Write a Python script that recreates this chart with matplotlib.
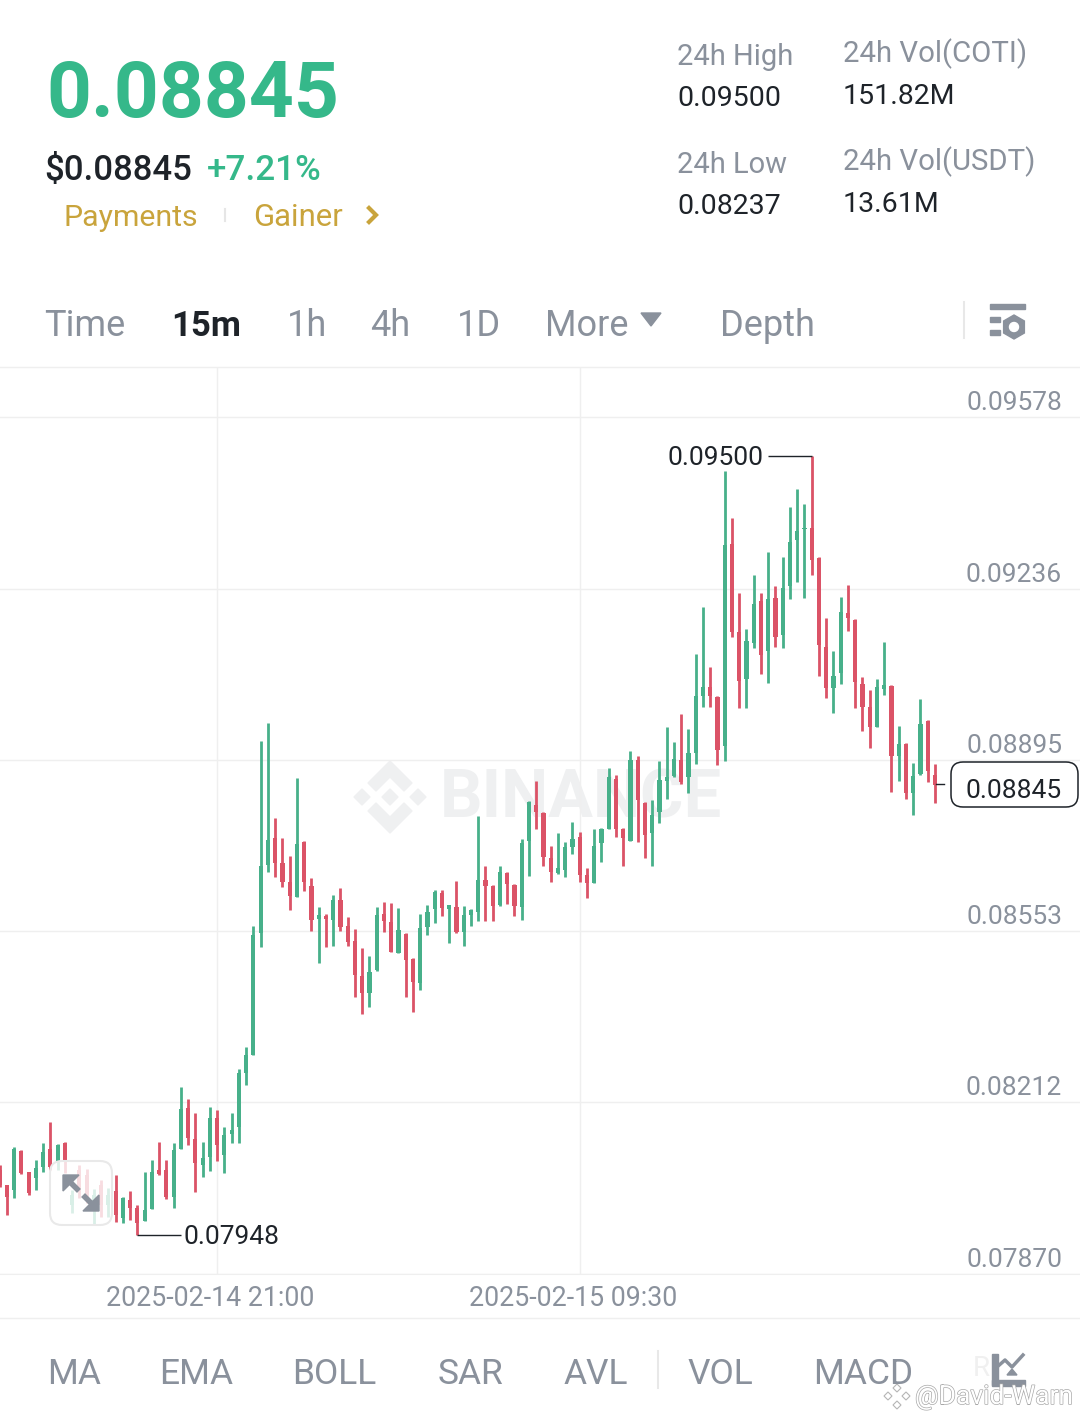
import numpy as np
import matplotlib
matplotlib.use("Agg")
import matplotlib.pyplot as plt
import matplotlib.patheffects as pe
from matplotlib.patches import FancyBboxPatch, Polygon, Rectangle, RegularPolygon, Circle

plt.rcParams['font.family'] = ['Roboto', 'DejaVu Sans']

# 15m candles, prices in ticks of 0.00001 USDT
highs = [8087,8047,8123,8117,8073,8097,8131,8173,8129,8133,
         8037,8087,8079,8039,8057,8041,8067,8023,8035,8007,
         8073,8097,8133,8097,8131,8243,8219,8191,8133,8203,
         8197,8163,8191,8278,8322,8563,8932,8968,8779,8739,
         8703,8858,8733,8659,8601,8587,8625,8639,8581,8557,
         8520,8504,8601,8611,8609,8599,8550,8500,8587,8605,
         8635,8635,8605,8653,8603,8597,8783,8683,8645,8683,
         8671,8647,8737,8813,8852,8791,8723,8749,8731,8771,
         8751,8679,8757,8759,8878,8864,8759,8912,8902,8811,
         8815,8892,8960,8930,8986,8956,9106,9199,9080,9022,
         9470,9377,9227,9155,9263,9227,9309,9241,9299,9399,
         9434,9405,9500,9299,9177,9111,9219,9243,9175,9060,
         9034,9056,9129,9044,8962,8928,8888,9016,8974,8886]
lows = [8043,7987,8021,8069,8027,8037,8073,8077,8077,8071,
        7991,8021,8011,7969,7983,7983,7973,7971,7977,7948,
        7975,7999,8067,8019,8001,8119,8127,8033,8063,8075,
        8095,8071,8131,8131,8247,8306,8522,8671,8661,8641,
        8595,8621,8633,8554,8490,8522,8524,8554,8524,8422,
        8388,8402,8474,8552,8512,8510,8422,8392,8436,8546,
        8569,8583,8530,8550,8524,8563,8573,8573,8573,8603,
        8607,8583,8575,8663,8757,8683,8651,8667,8661,8707,
        8651,8619,8649,8691,8757,8741,8683,8733,8731,8699,
        8683,8769,8817,8860,8846,8829,8886,9000,9000,8884,
        8892,9139,8998,8998,9117,9066,9048,9119,9117,9215,
        9249,9217,9263,9062,9018,8988,9046,9151,8998,8952,
        8918,8960,9024,8831,8852,8817,8785,8864,8850,8809]
opens = [8077,8047,8037,8115,8073,8061,8083,8119,8093,8131,
         8007,8077,8067,7997,8047,8007,8035,7981,8017,8001,
         7975,7999,8077,8077,8023,8119,8201,8139,8087,8103,
         8181,8107,8149,8163,8271,8306,8550,8685,8739,8689,
         8651,8621,8731,8643,8577,8583,8575,8615,8563,8534,
         8464,8430,8476,8587,8571,8510,8548,8498,8450,8561,
         8597,8629,8597,8601,8552,8585,8591,8655,8643,8605,
         8669,8645,8601,8733,8805,8789,8699,8669,8675,8721,
         8741,8665,8649,8729,8757,8856,8757,8733,8894,8809,
         8749,8791,8852,8862,8894,8860,8908,9022,9040,9020,
         8922,9325,9149,9056,9127,9211,9111,9217,9143,9241,
         9333,9355,9357,9297,9119,9038,9068,9187,9173,9046,
         9000,8960,9036,9042,8902,8926,8829,8866,8972,8864]
closes = [8047,8023,8119,8071,8031,8081,8113,8083,8127,8097,
          8027,8037,8027,8027,8007,8027,7987,8021,8001,7971,
          7997,8073,8069,8023,8117,8199,8141,8091,8101,8181,
          8127,8147,8157,8271,8306,8546,8683,8735,8689,8651,
          8623,8727,8651,8575,8585,8577,8615,8561,8532,8466,
          8430,8472,8585,8573,8512,8556,8496,8452,8559,8591,
          8631,8599,8605,8552,8585,8595,8655,8643,8603,8671,
          8647,8603,8729,8811,8791,8701,8671,8679,8721,8737,
          8665,8649,8723,8757,8860,8757,8739,8894,8815,8745,
          8785,8854,8860,8896,8850,8908,9022,9040,9022,8914,
          9323,9149,9052,9131,9205,9104,9215,9139,9237,9329,
          9351,9357,9293,9123,9038,9062,9189,9177,9050,9000,
          8960,9040,9044,8902,8926,8829,8862,8966,8872,8845]

y_ticks = [0.09578, 0.09236, 0.08895, 0.08553, 0.08212, 0.07870]
x_tick_index = [30, 80]
x_tick_labels = ["2025-02-14 21:00", "2025-02-15 09:30"]
last_price = 0.08845
high_label = 0.09500
low_label = 0.07948

tabs = ["Time", "15m", "1h", "4h", "1D", "More", "Depth"]
tabs_x = [44, 171, 287, 370, 457, 545, 720]
indicators = ["MA", "EMA", "BOLL", "SAR", "AVL", "VOL", "MACD"]
indicators_x = [47, 159, 292, 438, 564, 688, 813]

GREEN = "#47B08A"
RED = "#DB5367"
PRICE_GREEN = "#35B88A"
GREY = "#8A919C"
DARK = "#1E2329"
GOLD = "#C9A43C"
LINE = "#EFEFEF"

fig = plt.figure(figsize=(10.8, 14.18), dpi=100)
W, H = 1080, 1418


def ui_axes(z):
    a = fig.add_axes([0, 0, 1, 1], zorder=z)
    a.set_xlim(0, W)
    a.set_ylim(H, 0)
    a.axis("off")
    return a


bg = ui_axes(0)
fg = ui_axes(2)

# --- watermark under the candles
wm = "#EFF0F1"
bg.text(440, 799, "BINANCE", fontsize=48, fontweight="bold", color=wm, va="center", ha="left")
for cx in (362, 390, 418):
    bg.add_patch(Polygon([(cx, 789), (cx + 8, 797), (cx, 805), (cx - 8, 797)], color=wm))
bg.add_patch(Polygon([(390, 761), (412, 783), (404, 791), (390, 777), (376, 791), (368, 783)], color=wm))
bg.add_patch(Polygon([(390, 833), (412, 811), (404, 803), (390, 817), (376, 803), (368, 811)], color=wm))

# --- chart
top_px, bot_px = 367, 1274
ax = fig.add_axes([0, 1 - bot_px / H, 1, (bot_px - top_px) / H], zorder=1)
ax.patch.set_alpha(0)
px_price = (y_ticks[0] - y_ticks[-1]) / (1274 - 417)
ax.set_ylim(y_ticks[-1], y_ticks[0] + 50 * px_price)
ax.set_xlim(0.04, 149.0)

o = np.array(opens) / 1e5
c = np.array(closes) / 1e5
hi = np.array(highs) / 1e5
lo = np.array(lows) / 1e5
x = np.arange(len(o))
up = c >= o
cols = np.where(up, GREEN, RED)

ax.vlines(x, lo, hi, colors=cols, linewidth=2.0, zorder=3)
ax.bar(x, np.maximum(np.abs(c - o), 2e-5), bottom=np.minimum(o, c), width=0.56, color=cols, zorder=3)

ax.set_yticks(y_ticks)
ax.set_xticks(x_tick_index)
ax.tick_params(length=0, labelleft=False, labelbottom=False)
ax.grid(True, color=LINE, linewidth=1)
ax.set_axisbelow(True)
for name in ("top", "left", "right"):
    ax.spines[name].set_visible(False)
ax.spines["bottom"].set_color(LINE)

for p in y_ticks:
    ax.annotate(f"{p:.5f}", xy=(1, p), xycoords=("axes fraction", "data"), xytext=(-18, 14),
                textcoords="offset pixels", ha="right", va="center", fontsize=19, color=GREY,
                annotation_clip=False)
for i, lab in zip(x_tick_index, x_tick_labels):
    ax.annotate(lab, xy=(i, 0), xycoords=("data", "axes fraction"), xytext=(-7, -25),
                textcoords="offset pixels", ha="center", va="center", fontsize=19.3, color=GREY,
                annotation_clip=False)

# high / low markers
i_hi = int(np.argmax(hi))
i_lo = int(np.argmin(lo))
ax.hlines(high_label, i_hi - 6, i_hi, color=DARK, lw=1, zorder=4)
ax.annotate(f"{high_label:.5f}", xy=(i_hi, high_label), xytext=(-48, -2), textcoords="offset pixels",
            ha="right", va="center", fontsize=19, color=DARK)
ax.hlines(low_label, i_lo, i_lo + 6, color=DARK, lw=1, zorder=4)
ax.annotate(f"{low_label:.5f}", xy=(i_lo, low_label), xytext=(46, -2), textcoords="offset pixels",
            ha="left", va="center", fontsize=19, color=DARK)

# --- header
fg.text(46, 96, f"{last_price:.5f}", fontsize=56.5, fontweight="bold", color=PRICE_GREEN, va="center")
fg.text(44, 171, f"${last_price:.5f}", fontsize=25, fontweight="medium", color=DARK, va="center")
fg.text(207, 171, "+7.21%", fontsize=25.2, fontweight="medium", color=PRICE_GREEN, va="center")
fg.text(63, 218, "Payments", fontsize=21.8, color=GOLD, va="center")
fg.text(253, 218, "Gainer", fontsize=22.4, color=GOLD, va="center")
fg.plot([225, 225], [209, 221], color="#E6E6E6", lw=1.5)
fg.plot([369, 376, 369], [208, 215, 222], color=GOLD, lw=3, solid_joinstyle="miter")

fg.text(677, 57, "24h High", fontsize=21, color=GREY, va="center")
fg.text(677, 99, "0.09500", fontsize=20.5, color=DARK, va="center")
fg.text(677, 165, "24h Low", fontsize=21, color=GREY, va="center")
fg.text(677, 207, "0.08237", fontsize=20.5, color=DARK, va="center")
fg.text(843, 54, "24h Vol(COTI)", fontsize=21.2, color=GREY, va="center")
fg.text(843, 96, "151.82M", fontsize=20.5, color=DARK, va="center")
fg.text(843, 162, "24h Vol(USDT)", fontsize=21.2, color=GREY, va="center")
fg.text(843, 204, "13.61M", fontsize=20.5, color=DARK, va="center")

# --- tabs
for lab, tx in zip(tabs, tabs_x):
    active = lab == "15m"
    fg.text(tx, 326, lab, fontsize=25 if active else 26, color=DARK if active else GREY,
            fontweight="bold" if active else "normal", va="center")
fg.add_patch(Polygon([(641, 313), (661, 313), (651, 326)], color=GREY))
fg.plot([964, 964], [302, 338], color="#E8E8E8", lw=1.5)
fg.add_patch(Rectangle((990, 304), 35, 5, color=GREY))
fg.add_patch(Rectangle((990, 317), 10, 5, color=GREY))
fg.add_patch(Rectangle((990, 330), 10, 5, color=GREY))
fg.add_patch(RegularPolygon((1014, 327), 6, radius=12, color=GREY))
fg.add_patch(Circle((1014, 327), 4.5, color="white"))
fg.plot([0, W], [367, 367], color=LINE, lw=1)

# --- expand button over the candles
fg.add_patch(FancyBboxPatch((50, 1161), 62, 64, boxstyle="round,pad=0,rounding_size=12",
                            fc=(1, 1, 1, 0.8), ec="#E9E9E9", lw=1.5))
fg.add_patch(Polygon([(63, 1175), (79, 1175), (63, 1191)], color=GREY))
fg.plot([69, 77], [1181, 1189], color=GREY, lw=4)
fg.add_patch(Polygon([(99, 1211), (83, 1211), (99, 1195)], color=GREY))
fg.plot([93, 85], [1205, 1197], color=GREY, lw=4)

# --- last price tag
fg.plot([936, 944], [784, 784], color=DARK, lw=1)
fg.add_patch(FancyBboxPatch((951, 762), 127, 45, boxstyle="round,pad=0,rounding_size=12",
                            fc="white", ec=DARK, lw=1.1))
fg.text(1062, 791, f"{last_price:.5f}", fontsize=19, color=DARK, ha="right", va="center")

# --- bottom bar
fg.plot([0, W], [1318, 1318], color=LINE, lw=1)
for lab, tx in zip(indicators, indicators_x):
    fg.text(tx, 1375, lab, fontsize=25.5, color=GREY, va="center")
fg.plot([658, 658], [1351, 1388], color="#E8E8E8", lw=1.5)
fg.text(973, 1368, "R", fontsize=20, color="#F0F0F0", va="center")
fg.add_patch(Rectangle((992, 1354), 5.5, 31, color=GREY))
fg.add_patch(Rectangle((992, 1380), 33, 5.5, color=GREY))
fg.plot([997, 1005, 1012, 1023], [1367, 1360, 1367, 1355], color=GREY, lw=2.5)
fg.add_patch(Polygon([(1007, 1375), (1017, 1375), (1012, 1369)], color=GREY))

# reposted-by mark
t = fg.text(915, 1397, "@David-Warn", fontsize=19, color="white", va="center")
t.set_path_effects([pe.withStroke(linewidth=1.0, foreground="#A8A8A8")])
for d in [(897, 1388), (888, 1396), (906, 1396), (897, 1405)]:
    fg.add_patch(Polygon([(d[0], d[1] - 4), (d[0] + 4, d[1]), (d[0], d[1] + 4), (d[0] - 4, d[1])],
                         fc="white", ec="#B5B5B5", lw=0.8))

fig.savefig("out.png", dpi=100)
